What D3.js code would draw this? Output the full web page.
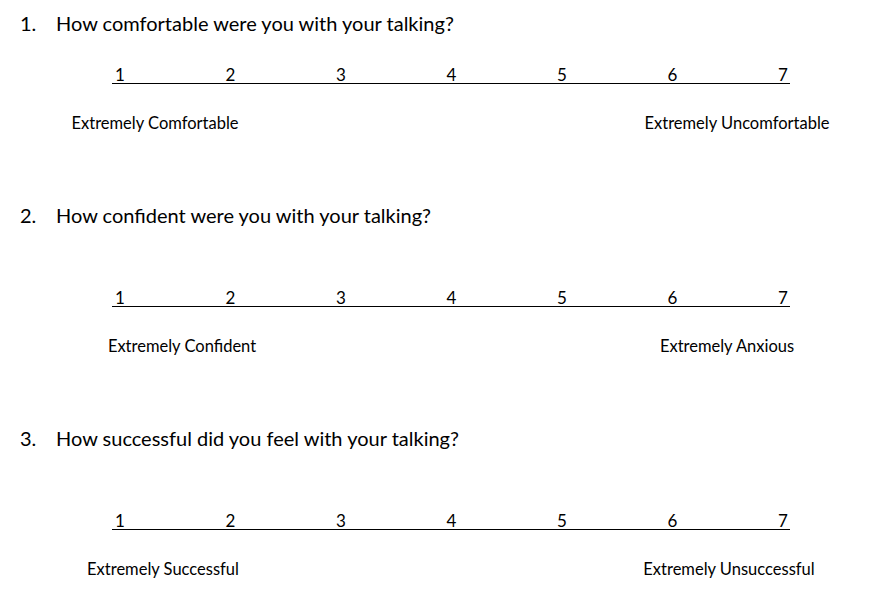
<!DOCTYPE html>
<html><head><meta charset="utf-8">
<script src="https://cdn.jsdelivr.net/npm/d3@7"></script>
<style>body{margin:0;background:#fff}</style></head>
<body><svg id="c" width="879" height="601"></svg>
<script>
const questions = ["How comfortable were you with your talking?","How confident were you with your talking?","How successful did you feel with your talking?"];
const scaleTicks = ["1","2","3","4","5","6","7"];
const leftLabels = ["Extremely Comfortable","Extremely Confident","Extremely Successful"];
const rightLabels = ["Extremely Uncomfortable","Extremely Anxious","Extremely Unsuccessful"];
const leftX = [155,182,163];
const rightX = [737,727,729];
const blockTops = [0,192,415];
const scaleOffsets = [0,31,31];

const svg = d3.select("#c");
const font = "Lato, 'Open Sans', sans-serif";
const x = d3.scalePoint().domain(scaleTicks).range([120,783]);

questions.forEach((q,i)=>{
  const g = svg.append("g").attr("transform",`translate(0,${blockTops[i]})`);
  const off = scaleOffsets[i];
  g.append("text").attr("x",20).attr("y",31).attr("font-family",font).attr("font-size",20).text((i+1)+".");
  g.append("text").attr("x",56).attr("y",31).attr("font-family",font).attr("font-size",20).text(q);
  g.append("line").attr("x1",112).attr("x2",790).attr("y1",83.5+off).attr("y2",83.5+off).attr("stroke","#000").attr("stroke-width",1);
  g.selectAll("text.n").data(scaleTicks).enter().append("text").attr("class","n")
    .attr("x",d=>x(d)).attr("y",81+off).attr("text-anchor","middle")
    .attr("font-family",font).attr("font-size",17).text(d=>d);
  g.append("text").attr("x",leftX[i]).attr("y",129+off).attr("text-anchor","middle").attr("font-family",font).attr("font-size",16.5).text(leftLabels[i]);
  g.append("text").attr("x",rightX[i]).attr("y",129+off).attr("text-anchor","middle").attr("font-family",font).attr("font-size",16.5).text(rightLabels[i]);
});
</script></body></html>
